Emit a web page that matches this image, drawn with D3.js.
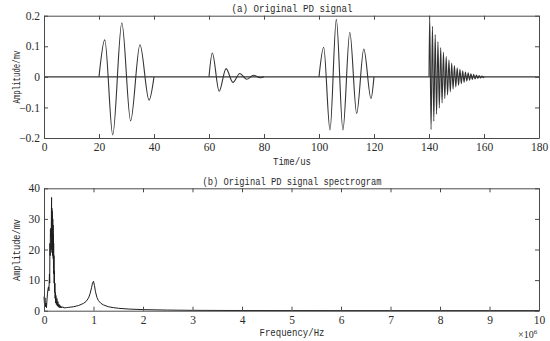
<!DOCTYPE html>
<html>
<head>
<meta charset="utf-8">
<script src="https://cdn.jsdelivr.net/npm/d3@7"></script>
<style>
  body { margin: 0; background: #fff; }
  svg { display: block; }
</style>
</head>
<body>
<script>

// Axis tick values
var timeTicks = [0, 20, 40, 60, 80, 100, 120, 140, 160, 180];
var ampTicks = [-0.2, -0.1, 0, 0.1, 0.2];
var freqTicks = [0, 1, 2, 3, 4, 5, 6, 7, 8, 9, 10];
var specTicks = [0, 10, 20, 30, 40];

// Signal bursts, extrema [time us, amplitude mv]
var baseline = [[0, 0], [180, 0]];
var burst1 = [[20, 0], [22.1, 0.121], [25.0, -0.19], [28.3, 0.177], [31.5, -0.144],
              [34.9, 0.105], [38.2, -0.076], [40, 0]];
var burst2 = [[60, 0], [61.2, 0.078], [63.7, -0.047], [66.2, 0.027], [68.7, -0.018],
              [71.2, 0.011], [73.7, -0.008], [76.2, 0.005], [78.7, -0.003], [80, 0]];
var burst3 = [[100, 0], [101.7, 0.097], [104.0, -0.174], [106.3, 0.188], [108.7, -0.174],
              [111.2, 0.146], [113.7, -0.12], [116.3, 0.091], [118.9, -0.071], [120, 0]];
var burst4 = [[140, 0],
  [140.25, 0.2], [140.75, -0.172], [141.25, 0.165], [141.75, -0.145],
  [142.25, 0.138], [142.75, -0.122], [143.25, 0.115], [143.75, -0.102],
  [144.25, 0.096], [144.75, -0.085], [145.25, 0.080], [145.75, -0.071],
  [146.25, 0.066], [146.75, -0.059], [147.25, 0.055], [147.75, -0.049],
  [148.25, 0.045], [148.75, -0.040], [149.25, 0.037], [149.75, -0.033],
  [150.25, 0.030], [150.75, -0.027], [151.25, 0.025], [151.75, -0.022],
  [152.25, 0.020], [152.75, -0.018], [153.25, 0.016], [153.75, -0.014],
  [154.25, 0.013], [154.75, -0.011], [155.25, 0.010], [155.75, -0.009],
  [156.25, 0.008], [156.75, -0.007], [157.25, 0.006], [157.75, -0.005],
  [158.25, 0.004], [158.75, -0.004], [159.25, 0.003], [159.75, -0.003],
  [160, 0]];

// Spectrum (frequency in MHz, amplitude mv)
var specF = [0, 0.01, 0.02, 0.03, 0.04, 0.05, 0.06, 0.07, 0.08, 0.09, 0.10, 0.11, 0.115,
  0.12, 0.125, 0.13, 0.135, 0.14, 0.145, 0.15, 0.153, 0.156, 0.159, 0.162, 0.165, 0.168,
  0.171, 0.174, 0.177, 0.18, 0.183, 0.186, 0.189, 0.192, 0.195, 0.198, 0.201, 0.205, 0.21,
  0.215, 0.22, 0.225, 0.23, 0.235, 0.24, 0.25, 0.26, 0.27, 0.28, 0.29, 0.30, 0.31, 0.32,
  0.33, 0.34, 0.36, 0.38, 0.40, 0.45, 0.5, 0.6, 0.7, 0.8, 0.85, 0.9, 0.93, 0.96, 0.98,
  1.0, 1.02, 1.04, 1.07, 1.1, 1.15, 1.2, 1.3, 1.4, 1.5, 1.7, 2.0, 2.5, 3.0, 4, 5, 6, 7, 8, 9, 10];
var specA = [4.6, 2.0, 4.2, 1.3, 2.5, 1.0, 3.5, 5.5, 7.0, 7.8, 6.5, 12, 9,
  22, 18, 26.5, 24, 27, 20, 33, 37, 24, 33.5, 19, 32.5, 22,
  31, 18, 30, 21, 28, 17, 25, 14, 22, 12, 18, 9, 13,
  6, 9, 4, 6, 2.5, 5, 2, 4, 1.5, 3, 1.2, 2.2, 1.0, 1.8,
  0.9, 1.5, 0.9, 1.3, 0.9, 1.0, 1.1, 1.3, 1.7, 2.4, 3.0, 4.2, 5.5, 7.5, 9.0,
  9.6, 8.2, 6.2, 4.3, 3.3, 2.4, 1.9, 1.3, 1.0, 0.8, 0.55, 0.35, 0.2, 0.12, 0.06, 0.04, 0.03, 0.03, 0.03, 0.03, 0.03];

var w = 550;
var h = 341;
var axisColor = "#4a4a4a";
var textColor = "#2b2b2b";
var lineColor = "#333";
var serif = "Liberation Serif";
var mono = "Liberation Mono";

var svg = d3.select("body")
            .append("svg")
            .attr("width", w)
            .attr("height", h);

svg.append("rect")
    .attr("width", w)
    .attr("height", h)
    .attr("fill", "#fff");

// Scales
var xTime = d3.scaleLinear().domain([0, 180]).range([44, 539]);
var yAmp = d3.scaleLinear().domain([-0.2, 0.2]).range([138, 15.7]);
var xFreq = d3.scaleLinear().domain([0, 10]).range([44, 539]);
var ySpec = d3.scaleLinear().domain([0, 40]).range([310.7, 188.3]);

// Box with inward ticks on all four sides
function drawBox(xs, ys, xt, yt, xFmt, yFmt) {
  var x0 = xs.range()[0], x1 = xs.range()[1];
  var yb = ys.range()[0], yTop = ys.range()[1];

  var bottom = svg.append("g")
    .attr("transform", `translate(0, ${yb})`)
    .call(d3.axisBottom(xs).tickValues(xt).tickFormat(xFmt)
      .tickSize(-4).tickSizeOuter(0).tickPadding(5));
  var top = svg.append("g")
    .attr("transform", `translate(0, ${yTop})`)
    .call(d3.axisTop(xs).tickValues(xt).tickFormat(() => "")
      .tickSize(-4).tickSizeOuter(0));
  var left = svg.append("g")
    .attr("transform", `translate(${x0}, 0)`)
    .call(d3.axisLeft(ys).tickValues(yt).tickFormat(yFmt)
      .tickSize(-4).tickSizeOuter(0).tickPadding(4));
  var right = svg.append("g")
    .attr("transform", `translate(${x1}, 0)`)
    .call(d3.axisRight(ys).tickValues(yt).tickFormat(() => "")
      .tickSize(-4).tickSizeOuter(0));

  [bottom, top, left, right].forEach(function(g) {
    g.attr("font-family", serif).attr("font-size", 11.5);
    g.selectAll("path, line").attr("stroke", axisColor);
    g.selectAll("text")
      .attr("fill", textColor)
      .style("font-family", serif);
  });
}

var line1 = d3.line()
  .x(d => xTime(d[0]))
  .y(d => yAmp(d[1]))
  .curve(d3.curveMonotoneX);

svg.append("path")
  .datum(baseline)
  .attr("d", line1)
  .attr("fill", "none")
  .attr("stroke", lineColor)
  .attr("stroke-width", 1.1);

[burst1, burst2, burst3, burst4].forEach(function(b) {
  svg.append("path")
    .datum(b)
    .attr("d", line1)
    .attr("fill", "none")
    .attr("stroke", lineColor)
    .attr("stroke-width", 1.1);
});

var specData = specF.map((f, i) => [f, specA[i]]);
var line2 = d3.line()
  .x(d => xFreq(d[0]))
  .y(d => ySpec(d[1]));

svg.append("path")
  .datum(specData)
  .attr("d", line2)
  .attr("fill", "none")
  .attr("stroke", "#1f1f1f")
  .attr("stroke-width", 1);

var fmtAmp = d => d === 0 ? "0" : d3.format(".1f")(d);
drawBox(xTime, yAmp, timeTicks, ampTicks, d3.format("d"), fmtAmp);
drawBox(xFreq, ySpec, freqTicks, specTicks, d3.format("d"), d3.format("d"));

// Titles and axis labels
function label(x, y, txt, len, rot) {
  var t = svg.append("text")
    .attr("x", x)
    .attr("y", y)
    .attr("text-anchor", "middle")
    .attr("fill", textColor)
    .attr("font-family", mono)
    .attr("font-size", 11)
    .attr("textLength", len)
    .attr("lengthAdjust", "spacingAndGlyphs")
    .text(txt);
  if (rot) t.attr("transform", `rotate(-90, ${x}, ${y})`);
  return t;
}

label(292, 12, "(a) Original PD signal", 121);
label(292, 165, "Time/us", 38);
label(20, 77, "Amplitude/mv", 53, true);

label(292, 185, "(b) Original PD signal spectrogram", 179);
label(292, 336, "Frequency/Hz", 65);
label(20, 250, "Amplitude/mv", 62, true);

// x10^6 multiplier
var mult = svg.append("text")
  .attr("x", 518)
  .attr("y", 338)
  .attr("fill", textColor)
  .attr("font-family", serif)
  .attr("font-size", 10)
  .text("×10");
mult.append("tspan")
  .attr("dy", -4)
  .attr("font-size", 7)
  .text("6");

</script>
</body>
</html>
